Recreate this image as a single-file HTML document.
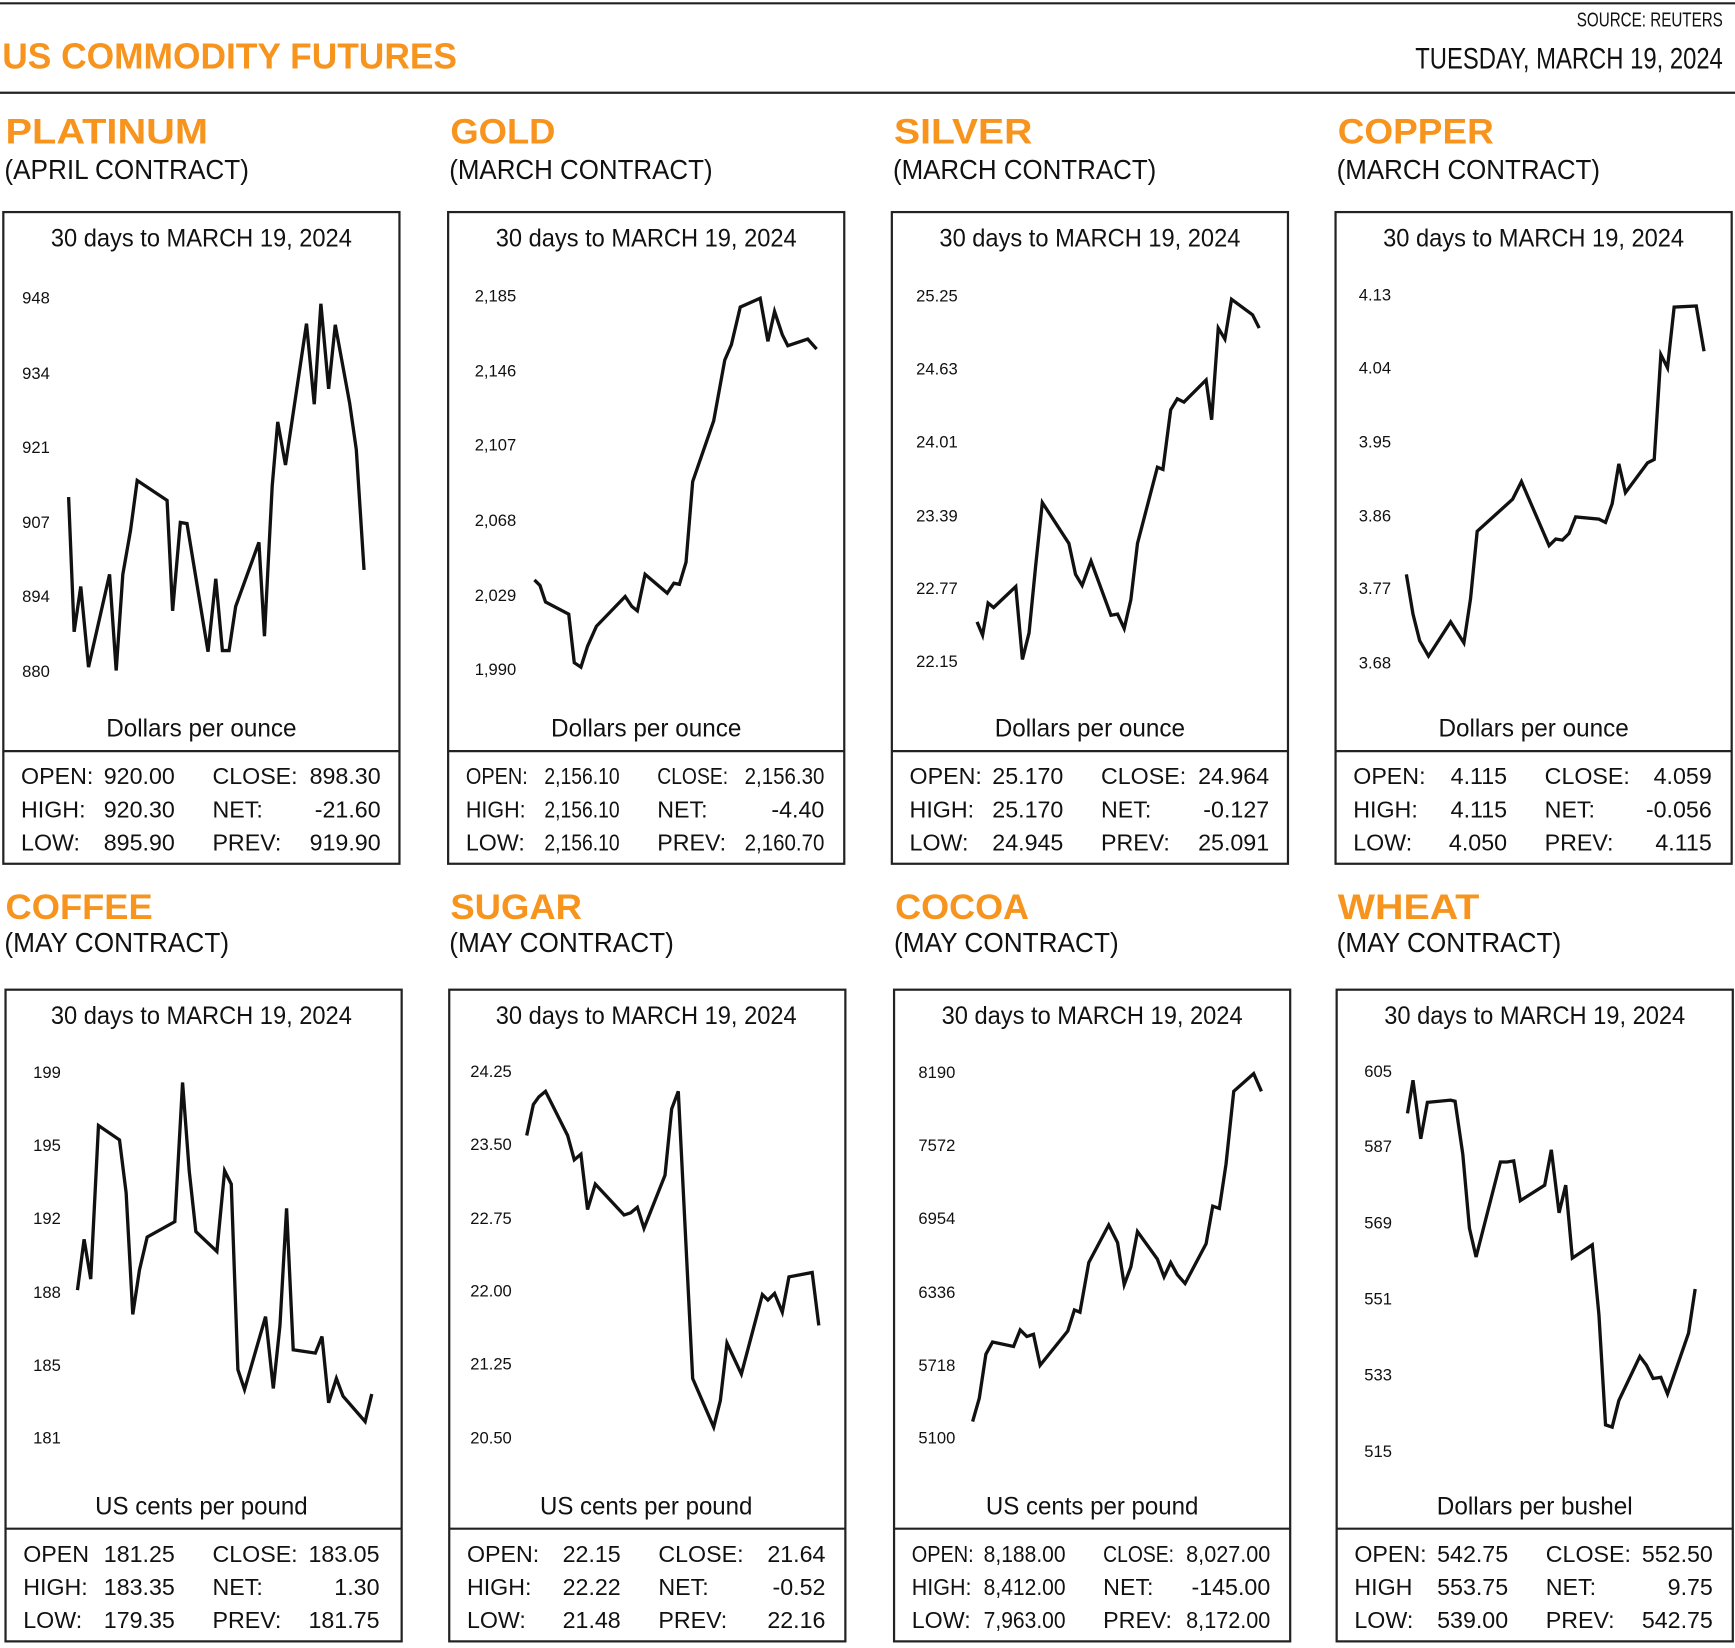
<!DOCTYPE html>
<html><head><meta charset="utf-8"><style>
html,body{margin:0;padding:0;background:#fff}
svg{display:block}
text{font-family:"Liberation Sans",sans-serif;fill:#111}
.ti{font-weight:bold;fill:#f7941d;font-size:32px}
.su{font-size:25px}
.hd{font-size:23px}
.tk{font-size:15px}
.st{font-size:21px}
.r{text-anchor:end}
.c{text-anchor:middle}
.ln{fill:none;stroke:#111;stroke-width:3;stroke-linejoin:miter}
.bx{fill:none;stroke:#222;stroke-width:2}
</style></head><body>
<svg width="1735" height="1648" viewBox="0 0 1568 1492" preserveAspectRatio="none">
<line x1="0" y1="3" x2="1568" y2="3" stroke="#222" stroke-width="2"/>
<line x1="0" y1="84" x2="1568" y2="84" stroke="#222" stroke-width="2"/>
<text x="2" y="62" class="ti" style="font-size:33px" textLength="411" lengthAdjust="spacingAndGlyphs">US COMMODITY FUTURES</text>
<text x="1557" y="24" class="r" style="font-size:18px" textLength="132" lengthAdjust="spacingAndGlyphs">SOURCE: REUTERS</text>
<text x="1557" y="62" class="r" style="font-size:27px" textLength="278" lengthAdjust="spacingAndGlyphs">TUESDAY, MARCH 19, 2024</text>

<!-- PLATINUM -->
<g transform="translate(3,192)">
<text x="2" y="-62" class="ti" textLength="183" lengthAdjust="spacingAndGlyphs">PLATINUM</text>
<text x="1" y="-30" class="su" textLength="221" lengthAdjust="spacingAndGlyphs">(APRIL CONTRACT)</text>
<rect x="0" y="0" width="358" height="590" class="bx"/><line x1="0" y1="488" x2="358" y2="488" stroke="#222" stroke-width="2"/>
<text x="179" y="31" class="hd c" textLength="272" lengthAdjust="spacingAndGlyphs">30 days to MARCH 19, 2024</text>
<text x="179" y="475" class="hd c" textLength="172" lengthAdjust="spacingAndGlyphs">Dollars per ounce</text>
<text x="17" y="83" class="tk">948</text><text x="17" y="151" class="tk">934</text><text x="17" y="218" class="tk">921</text><text x="17" y="286" class="tk">907</text><text x="17" y="353" class="tk">894</text><text x="17" y="421" class="tk">880</text>
<text x="16" y="518" class="st">OPEN:</text><text x="155" y="518" class="st r">920.00</text><text x="189" y="518" class="st">CLOSE:</text><text x="341" y="518" class="st r">898.30</text>
<text x="16" y="548" class="st">HIGH:</text><text x="155" y="548" class="st r">920.30</text><text x="189" y="548" class="st">NET:</text><text x="341" y="548" class="st r">-21.60</text>
<text x="16" y="578" class="st">LOW:</text><text x="155" y="578" class="st r">895.90</text><text x="189" y="578" class="st">PREV:</text><text x="341" y="578" class="st r">919.90</text>
</g>
<polyline class="ln" points="62,450 67,572 73,531 80,604 99,520 105,607 111,520 118,480 124,435 151,453 156,553 163,473 169,474 188,590 195,524 201,589 207,589 213,549 234,491 239,576 246,440 251,382 258,421 277,293 284,366 290,275 297,352 303,294 316,365 322,407 329,516"/>

<!-- GOLD -->
<g transform="translate(405,192)">
<text x="2" y="-62" class="ti" textLength="95" lengthAdjust="spacingAndGlyphs">GOLD</text>
<text x="1" y="-30" class="su" textLength="238" lengthAdjust="spacingAndGlyphs">(MARCH CONTRACT)</text>
<rect x="0" y="0" width="358" height="590" class="bx"/><line x1="0" y1="488" x2="358" y2="488" stroke="#222" stroke-width="2"/>
<text x="179" y="31" class="hd c" textLength="272" lengthAdjust="spacingAndGlyphs">30 days to MARCH 19, 2024</text>
<text x="179" y="475" class="hd c" textLength="172" lengthAdjust="spacingAndGlyphs">Dollars per ounce</text>
<text x="24" y="81" class="tk">2,185</text><text x="24" y="149" class="tk">2,146</text><text x="24" y="216" class="tk">2,107</text><text x="24" y="284" class="tk">2,068</text><text x="24" y="352" class="tk">2,029</text><text x="24" y="419" class="tk">1,990</text>
<text x="16" y="518" class="st" textLength="56" lengthAdjust="spacingAndGlyphs">OPEN:</text><text x="155" y="518" class="st r" textLength="68" lengthAdjust="spacingAndGlyphs">2,156.10</text><text x="189" y="518" class="st" textLength="64" lengthAdjust="spacingAndGlyphs">CLOSE:</text><text x="340" y="518" class="st r" textLength="72" lengthAdjust="spacingAndGlyphs">2,156.30</text>
<text x="16" y="548" class="st" textLength="54" lengthAdjust="spacingAndGlyphs">HIGH:</text><text x="155" y="548" class="st r" textLength="68" lengthAdjust="spacingAndGlyphs">2,156.10</text><text x="189" y="548" class="st">NET:</text><text x="340" y="548" class="st r">-4.40</text>
<text x="16" y="578" class="st">LOW:</text><text x="155" y="578" class="st r" textLength="68" lengthAdjust="spacingAndGlyphs">2,156.10</text><text x="189" y="578" class="st">PREV:</text><text x="340" y="578" class="st r" textLength="72" lengthAdjust="spacingAndGlyphs">2,160.70</text>
</g>
<polyline class="ln" points="483,525 488,530 493,545 514,556 519,600 525,604 531,585 539,567 565,540 571,549 576,553 583,520 603,537 609,528 614,529 620,509 626,436 645,381 655,326 661,312 669,278 687,270 694,309 700,282 707,303 712,313 730,307 738,316"/>

<!-- SILVER -->
<g transform="translate(806,192)">
<text x="2" y="-62" class="ti" textLength="125" lengthAdjust="spacingAndGlyphs">SILVER</text>
<text x="1" y="-30" class="su" textLength="238" lengthAdjust="spacingAndGlyphs">(MARCH CONTRACT)</text>
<rect x="0" y="0" width="358" height="590" class="bx"/><line x1="0" y1="488" x2="358" y2="488" stroke="#222" stroke-width="2"/>
<text x="179" y="31" class="hd c" textLength="272" lengthAdjust="spacingAndGlyphs">30 days to MARCH 19, 2024</text>
<text x="179" y="475" class="hd c" textLength="172" lengthAdjust="spacingAndGlyphs">Dollars per ounce</text>
<text x="22" y="81" class="tk">25.25</text><text x="22" y="147" class="tk">24.63</text><text x="22" y="213" class="tk">24.01</text><text x="22" y="280" class="tk">23.39</text><text x="22" y="346" class="tk">22.77</text><text x="22" y="412" class="tk">22.15</text>
<text x="16" y="518" class="st">OPEN:</text><text x="155" y="518" class="st r">25.170</text><text x="189" y="518" class="st">CLOSE:</text><text x="341" y="518" class="st r">24.964</text>
<text x="16" y="548" class="st">HIGH:</text><text x="155" y="548" class="st r">25.170</text><text x="189" y="548" class="st">NET:</text><text x="341" y="548" class="st r">-0.127</text>
<text x="16" y="578" class="st">LOW:</text><text x="155" y="578" class="st r">24.945</text><text x="189" y="578" class="st">PREV:</text><text x="341" y="578" class="st r">25.091</text>
</g>
<polyline class="ln" points="883,563 888,575 893,546 898,550 918,531 924,597 930,573 936,512 942,455 966,492 972,520 978,530 986,508 1004,557 1010,556 1016,569 1022,543 1028,492 1046,423 1051,425 1058,371 1064,361 1070,364 1090,344 1095,380 1101,297 1107,307 1113,271 1132,285 1138,297"/>

<!-- COPPER -->
<g transform="translate(1207,192)">
<text x="2" y="-62" class="ti" textLength="141" lengthAdjust="spacingAndGlyphs">COPPER</text>
<text x="1" y="-30" class="su" textLength="238" lengthAdjust="spacingAndGlyphs">(MARCH CONTRACT)</text>
<rect x="0" y="0" width="358" height="590" class="bx"/><line x1="0" y1="488" x2="358" y2="488" stroke="#222" stroke-width="2"/>
<text x="179" y="31" class="hd c" textLength="272" lengthAdjust="spacingAndGlyphs">30 days to MARCH 19, 2024</text>
<text x="179" y="475" class="hd c" textLength="172" lengthAdjust="spacingAndGlyphs">Dollars per ounce</text>
<text x="21" y="80" class="tk">4.13</text><text x="21" y="146" class="tk">4.04</text><text x="21" y="213" class="tk">3.95</text><text x="21" y="280" class="tk">3.86</text><text x="21" y="346" class="tk">3.77</text><text x="21" y="413" class="tk">3.68</text>
<text x="16" y="518" class="st">OPEN:</text><text x="155" y="518" class="st r">4.115</text><text x="189" y="518" class="st">CLOSE:</text><text x="340" y="518" class="st r">4.059</text>
<text x="16" y="548" class="st">HIGH:</text><text x="155" y="548" class="st r">4.115</text><text x="189" y="548" class="st">NET:</text><text x="340" y="548" class="st r">-0.056</text>
<text x="16" y="578" class="st">LOW:</text><text x="155" y="578" class="st r">4.050</text><text x="189" y="578" class="st">PREV:</text><text x="340" y="578" class="st r">4.115</text>
</g>
<polyline class="ln" points="1271,520 1277,556 1283,580 1291,594 1311,563 1323,582 1329,542 1335,481 1367,452 1375,436 1400,494 1406,488 1412,489 1418,483 1424,468 1445,470 1451,473 1457,456 1463,420 1469,446 1489,419 1495,416 1501,321 1507,333 1513,278 1533,277 1540,318"/>

<!-- COFFEE -->
<g transform="translate(5,896)">
<text x="0" y="-64" class="ti" textLength="133" lengthAdjust="spacingAndGlyphs">COFFEE</text>
<text x="-1" y="-34" class="su" textLength="203" lengthAdjust="spacingAndGlyphs">(MAY CONTRACT)</text>
<rect x="0" y="0" width="358" height="590" class="bx"/><line x1="0" y1="488" x2="358" y2="488" stroke="#222" stroke-width="2"/>
<text x="177" y="31" class="hd c" textLength="272" lengthAdjust="spacingAndGlyphs">30 days to MARCH 19, 2024</text>
<text x="177" y="475" class="hd c" textLength="192" lengthAdjust="spacingAndGlyphs">US cents per pound</text>
<text x="25" y="80" class="tk">199</text><text x="25" y="146" class="tk">195</text><text x="25" y="212" class="tk">192</text><text x="25" y="279" class="tk">188</text><text x="25" y="345" class="tk">185</text><text x="25" y="411" class="tk">181</text>
<text x="16" y="518" class="st">OPEN</text><text x="153" y="518" class="st r">181.25</text><text x="187" y="518" class="st">CLOSE:</text><text x="338" y="518" class="st r">183.05</text>
<text x="16" y="548" class="st">HIGH:</text><text x="153" y="548" class="st r">183.35</text><text x="187" y="548" class="st">NET:</text><text x="338" y="548" class="st r">1.30</text>
<text x="16" y="578" class="st">LOW:</text><text x="153" y="578" class="st r">179.35</text><text x="187" y="578" class="st">PREV:</text><text x="338" y="578" class="st r">181.75</text>
</g>
<polyline class="ln" points="70,1168 76,1122 82,1158 89,1019 108,1032 114,1080 120,1190 126,1150 133,1120 158,1106 165,980 171,1060 177,1115 196,1133 203,1060 209,1072 215,1240 221,1258 240,1192 247,1257 253,1200 259,1094 265,1222 285,1225 291,1210 297,1270 304,1248 310,1264 330,1287 336,1262"/>

<!-- SUGAR -->
<g transform="translate(406,896)">
<text x="1" y="-64" class="ti" textLength="119" lengthAdjust="spacingAndGlyphs">SUGAR</text>
<text x="0" y="-34" class="su" textLength="203" lengthAdjust="spacingAndGlyphs">(MAY CONTRACT)</text>
<rect x="0" y="0" width="358" height="590" class="bx"/><line x1="0" y1="488" x2="358" y2="488" stroke="#222" stroke-width="2"/>
<text x="178" y="31" class="hd c" textLength="272" lengthAdjust="spacingAndGlyphs">30 days to MARCH 19, 2024</text>
<text x="178" y="475" class="hd c" textLength="192" lengthAdjust="spacingAndGlyphs">US cents per pound</text>
<text x="19" y="79" class="tk">24.25</text><text x="19" y="145" class="tk">23.50</text><text x="19" y="212" class="tk">22.75</text><text x="19" y="278" class="tk">22.00</text><text x="19" y="344" class="tk">21.25</text><text x="19" y="411" class="tk">20.50</text>
<text x="16" y="518" class="st">OPEN:</text><text x="155" y="518" class="st r">22.15</text><text x="189" y="518" class="st">CLOSE:</text><text x="340" y="518" class="st r">21.64</text>
<text x="16" y="548" class="st">HIGH:</text><text x="155" y="548" class="st r">22.22</text><text x="189" y="548" class="st">NET:</text><text x="340" y="548" class="st r">-0.52</text>
<text x="16" y="578" class="st">LOW:</text><text x="155" y="578" class="st r">21.48</text><text x="189" y="578" class="st">PREV:</text><text x="340" y="578" class="st r">22.16</text>
</g>
<polyline class="ln" points="476,1028 482,1000 487,993 493,988 513,1028 519,1050 525,1045 531,1095 538,1072 564,1100 570,1098 576,1093 582,1112 601,1064 607,1004 613,988 626,1248 645,1292 651,1268 657,1216 670,1244 689,1172 694,1177 700,1171 707,1188 713,1156 734,1152 740,1200"/>

<!-- COCOA -->
<g transform="translate(808,896)">
<text x="1" y="-64" class="ti" textLength="121" lengthAdjust="spacingAndGlyphs">COCOA</text>
<text x="0" y="-34" class="su" textLength="203" lengthAdjust="spacingAndGlyphs">(MAY CONTRACT)</text>
<rect x="0" y="0" width="358" height="590" class="bx"/><line x1="0" y1="488" x2="358" y2="488" stroke="#222" stroke-width="2"/>
<text x="179" y="31" class="hd c" textLength="272" lengthAdjust="spacingAndGlyphs">30 days to MARCH 19, 2024</text>
<text x="179" y="475" class="hd c" textLength="192" lengthAdjust="spacingAndGlyphs">US cents per pound</text>
<text x="22" y="80" class="tk">8190</text><text x="22" y="146" class="tk">7572</text><text x="22" y="212" class="tk">6954</text><text x="22" y="279" class="tk">6336</text><text x="22" y="345" class="tk">5718</text><text x="22" y="411" class="tk">5100</text>
<text x="16" y="518" class="st" textLength="56" lengthAdjust="spacingAndGlyphs">OPEN:</text><text x="155" y="518" class="st r" textLength="74" lengthAdjust="spacingAndGlyphs">8,188.00</text><text x="189" y="518" class="st" textLength="64" lengthAdjust="spacingAndGlyphs">CLOSE:</text><text x="340" y="518" class="st r" textLength="76" lengthAdjust="spacingAndGlyphs">8,027.00</text>
<text x="16" y="548" class="st" textLength="54" lengthAdjust="spacingAndGlyphs">HIGH:</text><text x="155" y="548" class="st r" textLength="74" lengthAdjust="spacingAndGlyphs">8,412.00</text><text x="189" y="548" class="st">NET:</text><text x="340" y="548" class="st r">-145.00</text>
<text x="16" y="578" class="st">LOW:</text><text x="155" y="578" class="st r" textLength="74" lengthAdjust="spacingAndGlyphs">7,963.00</text><text x="189" y="578" class="st">PREV:</text><text x="340" y="578" class="st r" textLength="76" lengthAdjust="spacingAndGlyphs">8,172.00</text>
</g>
<polyline class="ln" points="879,1287 885,1266 891,1226 897,1215 916,1219 922,1204 928,1210 934,1208 940,1236 965,1205 971,1186 976,1188 984,1143 1002,1109 1010,1125 1016,1163 1022,1147 1028,1115 1046,1140 1052,1156 1058,1143 1064,1154 1071,1162 1090,1126 1096,1092 1102,1094 1108,1054 1115,988 1133,972 1140,988"/>

<!-- WHEAT -->
<g transform="translate(1208,896)">
<text x="1" y="-64" class="ti" textLength="128" lengthAdjust="spacingAndGlyphs">WHEAT</text>
<text x="0" y="-34" class="su" textLength="203" lengthAdjust="spacingAndGlyphs">(MAY CONTRACT)</text>
<rect x="0" y="0" width="358" height="590" class="bx"/><line x1="0" y1="488" x2="358" y2="488" stroke="#222" stroke-width="2"/>
<text x="179" y="31" class="hd c" textLength="272" lengthAdjust="spacingAndGlyphs">30 days to MARCH 19, 2024</text>
<text x="179" y="475" class="hd c" textLength="177" lengthAdjust="spacingAndGlyphs">Dollars per bushel</text>
<text x="25" y="79" class="tk">605</text><text x="25" y="147" class="tk">587</text><text x="25" y="216" class="tk">569</text><text x="25" y="285" class="tk">551</text><text x="25" y="354" class="tk">533</text><text x="25" y="423" class="tk">515</text>
<text x="16" y="518" class="st">OPEN:</text><text x="155" y="518" class="st r">542.75</text><text x="189" y="518" class="st">CLOSE:</text><text x="340" y="518" class="st r">552.50</text>
<text x="16" y="548" class="st">HIGH</text><text x="155" y="548" class="st r">553.75</text><text x="189" y="548" class="st">NET:</text><text x="340" y="548" class="st r">9.75</text>
<text x="16" y="578" class="st">LOW:</text><text x="155" y="578" class="st r">539.00</text><text x="189" y="578" class="st">PREV:</text><text x="340" y="578" class="st r">542.75</text>
</g>
<polyline class="ln" points="1272,1008 1277,978 1284,1031 1290,998 1311,996 1315,997 1322,1045 1328,1112 1334,1138 1356,1052 1362,1052 1368,1051 1374,1087 1396,1073 1402,1041 1409,1098 1415,1073 1421,1139 1439,1127 1445,1190 1451,1290 1457,1292 1463,1268 1482,1228 1488,1236 1494,1248 1501,1247 1507,1262 1526,1207 1532,1167"/>
</svg>
</body></html>
